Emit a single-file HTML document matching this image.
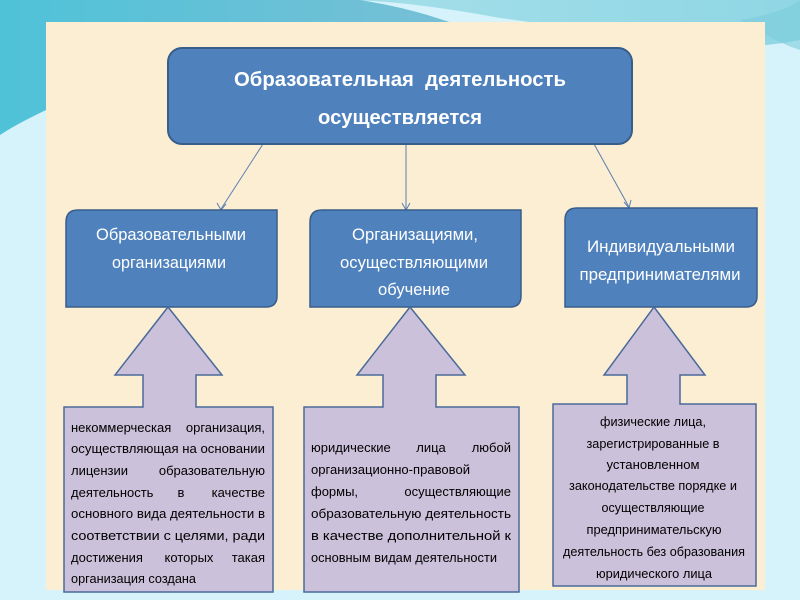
<!DOCTYPE html>
<html><head><meta charset="utf-8"><style>html,body{margin:0;padding:0;background:#d6f3fb}svg{display:block}</style></head>
<body>
<svg width="800" height="600" viewBox="0 0 800 600" xmlns="http://www.w3.org/2000/svg" font-family="'Liberation Sans','Noto Sans CJK SC',sans-serif">
<defs>
<linearGradient id="tl" x1="0" y1="0" x2="1" y2="0"><stop offset="0" stop-color="#4fc2d8"/><stop offset="1" stop-color="#78c0d6"/></linearGradient>
<linearGradient id="tr" x1="0" y1="0" x2="1" y2="0"><stop offset="0" stop-color="#b5e6ef"/><stop offset="1" stop-color="#8fd6e4"/></linearGradient>
</defs>
<rect width="800" height="600" fill="#d6f3fb"/>
<path d="M0 0 H800 V40 C700 60 600 30 500 18 C430 5 380 0 340 0 Z" fill="url(#tr)"/>
<path d="M0 0 H360 C420 10 440 20 460 25 L46 25 L46 110 C30 118 15 125 0 135 Z" fill="url(#tl)"/>
<path d="M740 20 C770 15 790 8 800 0 V50 C785 45 770 38 740 20Z" fill="#7ccbdc" opacity="0.6"/>
<rect x="46" y="22" width="719" height="568" fill="#fbeed3"/>
<g stroke="#5a7fb0" stroke-width="1" fill="none">
<line x1="263" y1="144" x2="221" y2="209"/><path d="M217 203 L221 210 L226 204"/>
<line x1="406" y1="144" x2="406" y2="209"/><path d="M402 203 L406 210 L410 203"/>
<line x1="594" y1="144" x2="629" y2="207"/><path d="M624 202 L629 208 L631 200"/>
</g>
<rect x="168" y="48" width="464" height="96" rx="14" fill="#4f81bd" stroke="#385d8a" stroke-width="2"/>
<g fill="#fff" font-weight="bold" font-size="20" text-anchor="middle">
<text x="400" y="86" textLength="332" lengthAdjust="spacingAndGlyphs">Образовательная&#160; деятельность</text>
<text x="400" y="124" textLength="164" lengthAdjust="spacingAndGlyphs">осуществляется</text>
</g>
<g fill="#4f81bd" stroke="#385d8a" stroke-width="1.5">
<path d="M78 210 H277 V296 Q277 307 266 307 H66 V222 Q66 210 78 210Z"/>
<path d="M322 210 H521 V296 Q521 307 510 307 H310 V222 Q310 210 322 210Z"/>
<path d="M577 208 H757 V296 Q757 307 746 307 H565 V220 Q565 208 577 208Z"/>
</g>
<g fill="#fff" font-size="17" text-anchor="middle">
<text x="171" y="240" textLength="150" lengthAdjust="spacingAndGlyphs">Образовательными</text>
<text x="169" y="268" textLength="114" lengthAdjust="spacingAndGlyphs">организациями</text>
<text x="415" y="240" textLength="126" lengthAdjust="spacingAndGlyphs">Организациями,</text>
<text x="414" y="268" textLength="148" lengthAdjust="spacingAndGlyphs">осуществляющими</text>
<text x="414" y="295" textLength="72" lengthAdjust="spacingAndGlyphs">обучение</text>
<text x="661" y="252" textLength="148" lengthAdjust="spacingAndGlyphs">Индивидуальными</text>
<text x="660" y="280" textLength="161" lengthAdjust="spacingAndGlyphs">предпринимателями</text>
</g>
<g fill="#ccc1da" stroke="#4a6a9a" stroke-width="1.5">
<path d="M168 307 L222 375 H196 V407 H273 V592 H64 V407 H143 V375 H115 Z"/>
<path d="M410 307 L465 375 H436 V407 H519 V592 H304 V407 H383 V375 H357 Z"/>
<path d="M654 307 L705 375 H680 V404 H756 V586 H553 V404 H627 V375 H604 Z"/>
</g>
<g fill="#000" font-size="13">
<text x="71" y="432">некоммерческая</text><text x="265" y="432" text-anchor="end">организация,</text>
<text x="71" y="453" textLength="194" lengthAdjust="spacingAndGlyphs">осуществляющая на основании</text>
<text x="71" y="475">лицензии</text><text x="265" y="475" text-anchor="end">образовательную</text>
<text x="71" y="497">деятельность</text><text x="181" y="497" text-anchor="middle">в</text><text x="265" y="497" text-anchor="end">качестве</text>
<text x="71" y="518" textLength="194" lengthAdjust="spacingAndGlyphs">основного вида деятельности в</text>
<text x="71" y="540" textLength="194" lengthAdjust="spacingAndGlyphs">соответствии с целями, ради</text>
<text x="71" y="562">достижения</text><text x="189" y="562" text-anchor="middle">которых</text><text x="265" y="562" text-anchor="end">такая</text>
<text x="71" y="583" textLength="125" lengthAdjust="spacingAndGlyphs">организация создана</text>
<text x="311" y="452">юридические</text><text x="431" y="452" text-anchor="middle">лица</text><text x="511" y="452" text-anchor="end">любой</text>
<text x="311" y="474" textLength="159" lengthAdjust="spacingAndGlyphs">организационно-правовой</text>
<text x="311" y="496">формы,</text><text x="511" y="496" text-anchor="end">осуществляющие</text>
<text x="311" y="518" textLength="200" lengthAdjust="spacingAndGlyphs">образовательную деятельность</text>
<text x="311" y="540" textLength="200" lengthAdjust="spacingAndGlyphs">в качестве дополнительной к</text>
<text x="311" y="562" textLength="186" lengthAdjust="spacingAndGlyphs">основным видам деятельности</text>
</g>
<g fill="#000" font-size="13" text-anchor="middle">
<text x="653" y="426" textLength="106" lengthAdjust="spacingAndGlyphs">физические лица,</text>
<text x="653" y="448" textLength="133" lengthAdjust="spacingAndGlyphs">зарегистрированные в</text>
<text x="653" y="469" textLength="93" lengthAdjust="spacingAndGlyphs">установленном</text>
<text x="653" y="490" textLength="168" lengthAdjust="spacingAndGlyphs">законодательстве порядке и</text>
<text x="653" y="512" textLength="103" lengthAdjust="spacingAndGlyphs">осуществляющие</text>
<text x="654" y="534" textLength="135" lengthAdjust="spacingAndGlyphs">предпринимательскую</text>
<text x="654" y="556" textLength="182" lengthAdjust="spacingAndGlyphs">деятельность без образования</text>
<text x="654" y="578" textLength="116" lengthAdjust="spacingAndGlyphs">юридического лица</text>
</g>
</svg>
</body></html>
